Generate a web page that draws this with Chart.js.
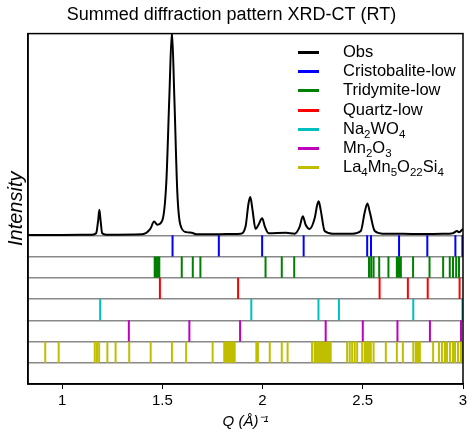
<!DOCTYPE html>
<html>
<head>
<meta charset="utf-8">
<script src="https://cdn.jsdelivr.net/npm/chart.js@4"></script>
<style>
  body { margin: 0; background: #fff; font-family: "Liberation Sans", Arial, sans-serif; }
  #wrap { position: relative; width: 474px; height: 437px; }
  #legend { position: absolute; left: 298px; top: 42px; font-size: 16.5px; line-height: 19.2px; color: #000; }
  #legend div { position: relative; height: 19.2px; white-space: nowrap; }
  #legend span.sw { position: absolute; left: 0; top: 9px; width: 21px; height: 3px; }
  #legend span.tx { position: absolute; left: 45px; top: 0; }
  sub { font-size: 11.5px; vertical-align: -4px; line-height: 0; }
</style>
</head>
<body>
<div id="wrap">
  <canvas id="chart" width="474" height="437"></canvas>
  <div id="legend"></div>
</div>
<script>
// observed pattern (Q, intensity in strip units above the reflection strips)
const obsQ = [0.83,1.0,1.15,1.17,1.18,1.186,1.192,1.2,1.22,1.40,1.44,1.459,1.475,1.50,1.52,1.535,1.548,1.56,1.575,1.59,1.62,1.647,1.67,1.75,1.82,1.89,1.915,1.93,1.939,1.95,1.965,1.98,1.998,2.012,2.03,2.117,2.16,2.185,2.201,2.215,2.235,2.26,2.272,2.28,2.29,2.31,2.35,2.45,2.49,2.51,2.523,2.535,2.56,2.6,2.7,2.8,2.9,2.95,2.97,2.98,3.0];
const obsI = [0.02,0.02,0.03,0.1,0.7,1.2,0.7,0.1,0.03,0.05,0.3,0.65,0.5,0.7,2.5,6.5,9.6,6.5,2.0,0.5,0.15,0.12,0.05,0.05,0.06,0.08,0.4,1.5,1.8,1.2,0.3,0.5,0.8,0.4,0.1,0.12,0.08,0.4,0.9,0.5,0.3,0.8,1.4,1.6,1.2,0.2,0.08,0.08,0.2,1.1,1.5,1.1,0.2,0.08,0.07,0.06,0.07,0.1,0.2,0.15,0.3];

const cristobalite = [1.551,1.782,1.998,2.205,2.522,2.541,2.681,2.822,2.962,2.997];
const tridymite = [1.462,1.468,1.474,1.48,1.485,1.597,1.652,1.690,2.015,2.096,2.158,2.531,2.542,2.554,2.582,2.628,2.670,2.680,2.690,2.751,2.833,2.901,2.934,2.950,2.966,2.980];
const quartz = [1.488,1.878,2.584,2.725,2.824,2.983];
const na2wo4 = [1.190,1.944,2.279,2.381,2.752,2.997];
const mn2o3 = [1.333,1.635,1.888,2.315,2.500,2.673,2.835,2.990];
const la4mn5 = [0.916,0.983,1.163,1.174,1.185,1.226,1.267,1.335,1.442,1.548,1.619,1.751,1.809,1.818,1.827,1.836,1.845,1.853,1.861,1.969,1.977,2.036,2.096,2.125,2.247,2.26,2.27,2.28,2.29,2.30,2.31,2.32,2.33,2.34,2.422,2.435,2.447,2.46,2.472,2.497,2.51,2.52,2.53,2.54,2.554,2.615,2.67,2.700,2.752,2.765,2.775,2.785,2.851,2.88,2.895,2.91,2.92,2.935,2.95,2.96,2.975,2.99,2.997];

const phaseNames = ['Cristobalite-low','Tridymite-low','Quartz-low','Na<sub>2</sub>WO<sub>4</sub>','Mn<sub>2</sub>O<sub>3</sub>','La<sub>4</sub>Mn<sub>5</sub>O<sub>22</sub>Si<sub>4</sub>'];
const phaseColors = ['#0000ff','#008000','#ff0000','#00bfbf','#bf00bf','#bfbf00'];
const phases = [cristobalite, tridymite, quartz, na2wo4, mn2o3, la4mn5];
const xTicks = [1, 1.5, 2, 2.5, 3];

const stripBase = 7;
const datasets = [{
    label: 'Obs',
    data: obsQ.map((q, i) => ({x: q, y: obsI[i] + stripBase})),
    borderColor: '#000',
    borderWidth: 2,
    pointRadius: 0,
    cubicInterpolationMode: 'monotone'
}];
phases.forEach((list, k) => {
    const top = stripBase - k, bottom = stripBase - k - 1;
    const pts = [];
    for (let q of list) {
        pts.push({x: q, y: top}, {x: q, y: bottom}, {x: q, y: null});
    }
    datasets.push({
        data: pts,
        borderColor: phaseColors[k],
        borderWidth: 2,
        pointRadius: 0,
        spanGaps: false
    });
});

const legend = document.getElementById('legend');
legend.innerHTML = '<div><span class="sw" style="background:#000"></span><span class="tx">Obs</span></div>' +
    phaseNames.map((n, k) => `<div><span class="sw" style="background:${phaseColors[k]}"></span><span class="tx">${n}</span></div>`).join('');

new Chart(document.getElementById('chart'), {
    type: 'line',
    data: { datasets },
    options: {
        responsive: false,
        animation: false,
        layout: { padding: { right: 11, top: 0, bottom: 2 } },
        plugins: {
            legend: { display: false },
            tooltip: { enabled: false },
            title: {
                display: true,
                text: 'Summed diffraction pattern XRD-CT (RT)',
                color: '#000',
                font: { size: 18, family: 'Liberation Sans', weight: 'normal' },
                padding: { top: 4, bottom: 8 }
            }
        },
        scales: {
            x: {
                type: 'linear',
                min: 0.83, max: 3.0,
                afterBuildTicks: (axis) => { axis.ticks = xTicks.map(v => ({value: v})); },
                ticks: { color: '#000', font: { size: 15, family: 'Liberation Sans' }, callback: v => String(v) },
                grid: { display: true, drawOnChartArea: false, color: '#000', tickLength: 5 },
                border: { color: '#000', width: 1.5 },
                title: { display: true, text: 'Q (Å)⁻¹', color: '#000', font: { size: 15, family: 'Liberation Sans', style: 'italic' }, padding: { top: 0 } }
            },
            y: {
                min: 0, max: 16.5,
                afterBuildTicks: (axis) => { axis.ticks = [0,1,2,3,4,5,6,7].map(v => ({value: v})); },
                ticks: { display: false },
                grid: { color: '#888', lineWidth: 1.5, drawTicks: false },
                border: { color: '#000', width: 1.5 },
                title: { display: true, text: 'Intensity', color: '#000', font: { size: 20, family: 'Liberation Sans', style: 'italic' }, padding: { bottom: 0 } }
            }
        }
    },
    plugins: [{
        id: 'frame',
        afterDraw(chart) {
            const a = chart.chartArea, c = chart.ctx;
            c.save();
            c.strokeStyle = '#000';
            c.lineWidth = 1.5;
            c.strokeRect(a.left, a.top, a.right - a.left, a.bottom - a.top);
            c.restore();
        }
    }]
});
</script>
</body>
</html>
